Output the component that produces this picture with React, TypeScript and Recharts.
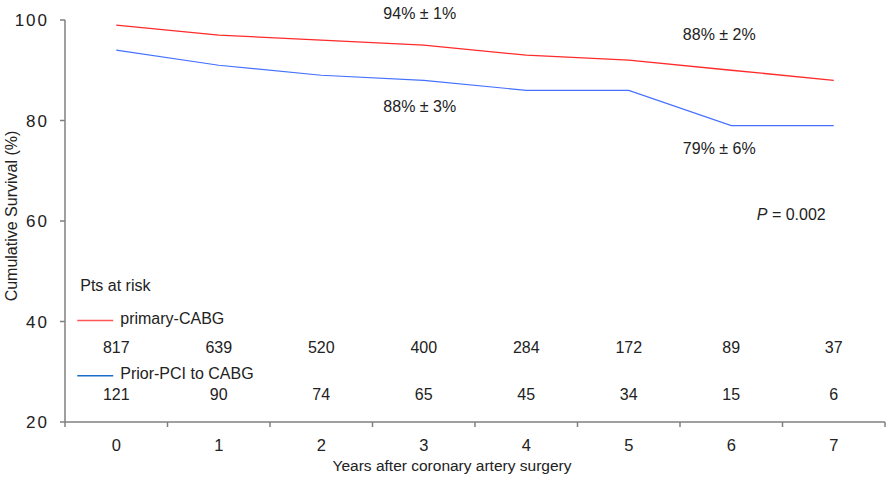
import React from 'react';
import { LineChart, Line, XAxis, YAxis, ReferenceDot, Label } from 'recharts';

const years = [0, 1, 2, 3, 4, 5, 6, 7];
const primaryCABG = [99, 97, 96, 95, 93, 92, 90, 88];
const priorPCItoCABG = [94, 91, 89, 88, 86, 86, 79, 79];
const atRiskPrimary = [817, 639, 520, 400, 284, 172, 89, 37];
const atRiskPrior = [121, 90, 74, 65, 45, 34, 15, 6];
const yTicks = [20, 40, 60, 80, 100];
const xTicks = [-0.5, 0, 0.5, 1, 1.5, 2, 2.5, 3, 3.5, 4, 4.5, 5, 5.5, 6, 6.5, 7, 7.5];

const annotations = [
  { text: '94% \u00b1 1%', year: 3, value: 101.2, dx: -4 },
  { text: '88% \u00b1 3%', year: 3, value: 82.7, dx: -4 },
  { text: '88% \u00b1 2%', year: 6, value: 97.2, dx: -12 },
  { text: '79% \u00b1 6%', year: 6, value: 74.5, dx: -12 },
];

const data = years.map((y, i) => ({
  year: y,
  primary: primaryCABG[i],
  prior: priorPCItoCABG[i],
}));

const FONT = '"Liberation Sans", Arial, sans-serif';
const TXT = '#222222';
const AXIS = '#808080';
const RED = '#ff2a2a';
const BLUE = '#4470ff';

const ROW_PRIMARY = 34.9;
const ROW_PRIOR = 25.4;

const XTick = (props: any) => {
  const { x, y, payload } = props;
  const v = payload.value;
  if (Number.isInteger(v)) {
    return (
      <text x={x} y={y + 18} textAnchor="middle" dominantBaseline="central" fontSize={16.5} fill={TXT} fontFamily={FONT}>
        {v}
      </text>
    );
  }
  return <line x1={x} x2={x} y1={y - 5} y2={y} stroke={AXIS} strokeWidth={1.5} />;
};

const textShape = (content: React.ReactNode, dx: number, anchor: string = 'middle') => (p: any) => (
  <text x={p.cx + dx} y={p.cy} textAnchor={anchor} dominantBaseline="central" fontSize={16} fill={TXT} fontFamily={FONT}>
    {content}
  </text>
);

const legendShape = (label: string, color: string) => (p: any) => (
  <g>
    <line x1={p.cx - 39} x2={p.cx - 3} y1={p.cy + 2} y2={p.cy + 2} stroke={color} strokeWidth={1.3} />
    <text x={p.cx + 4} y={p.cy} dominantBaseline="central" fontSize={16} fill={TXT} fontFamily={FONT}>
      {label}
    </text>
  </g>
);

export default function App() {
  return (
    <div style={{ position: 'absolute', left: 0, top: 0, background: '#fff' }}>
      <LineChart width={890} height={477} data={data} margin={{ top: 20, right: 5, bottom: 0, left: 0 }}>
        <XAxis
          dataKey="year"
          type="number"
          domain={[-0.5, 7.5]}
          ticks={xTicks}
          interval={0}
          tickLine={false}
          tickSize={5}
          tickMargin={0}
          height={55}
          tick={<XTick />}
          axisLine={{ stroke: AXIS, strokeWidth: 1.5 }}
        >
          <Label
            content={() => (
              <text x={452} y={465} textAnchor="middle" dominantBaseline="central" fontSize={15.5} fill={TXT} fontFamily={FONT}>
                Years after coronary artery surgery
              </text>
            )}
          />
        </XAxis>
        <YAxis
          domain={[20, 100]}
          ticks={yTicks}
          width={65}
          tickSize={5}
          tickMargin={11}
          tick={{ fontSize: 17, fill: TXT, fontFamily: FONT, letterSpacing: 2 }}
          tickLine={{ stroke: AXIS, strokeWidth: 1.5 }}
          axisLine={{ stroke: AXIS, strokeWidth: 1.5 }}
        >
          <Label
            content={() => (
              <text
                transform="translate(11,216) rotate(-90)"
                textAnchor="middle"
                dominantBaseline="central"
                fontSize={16}
                fill={TXT}
                fontFamily={FONT}
              >
                Cumulative Survival (%)
              </text>
            )}
          />
        </YAxis>
        <Line dataKey="primary" stroke={RED} strokeWidth={1.3} dot={false} activeDot={false} isAnimationActive={false} />
        <Line dataKey="prior" stroke={BLUE} strokeWidth={1.2} dot={false} activeDot={false} isAnimationActive={false} />

        {annotations.map((a, i) => (
          <ReferenceDot key={'a' + i} x={a.year} y={a.value} r={0} ifOverflow="visible" shape={textShape(a.text, a.dx)} />
        ))}
        <ReferenceDot
          x={7}
          y={61.4}
          r={0}
          ifOverflow="visible"
          shape={textShape(
            <>
              <tspan fontStyle="italic">P</tspan>
              <tspan> = 0.002</tspan>
            </>,
            -8,
            'end'
          )}
        />
        <ReferenceDot x={0} y={47.1} r={0} ifOverflow="visible" shape={textShape('Pts at risk', -36, 'start')} />
        <ReferenceDot x={0} y={40.6} r={0} ifOverflow="visible" shape={legendShape('primary-CABG', '#ff5555')} />
        <ReferenceDot x={0} y={29.6} r={0} ifOverflow="visible" shape={legendShape('Prior-PCI to CABG', '#1c6fc8')} />
        {atRiskPrimary.map((n, i) => (
          <ReferenceDot key={'p' + i} x={years[i]} y={ROW_PRIMARY} r={0} ifOverflow="visible" shape={textShape(String(n), 0)} />
        ))}
        {atRiskPrior.map((n, i) => (
          <ReferenceDot key={'q' + i} x={years[i]} y={ROW_PRIOR} r={0} ifOverflow="visible" shape={textShape(String(n), 0)} />
        ))}
      </LineChart>
    </div>
  );
}
